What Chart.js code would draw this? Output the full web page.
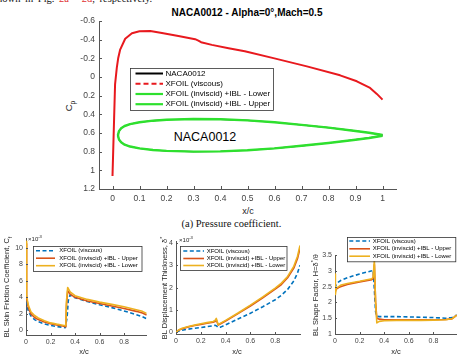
<!DOCTYPE html>
<html><head><meta charset="utf-8">
<script src="https://cdn.jsdelivr.net/npm/chart.js@4.4.0/dist/chart.umd.min.js"></script>
<style>
body{margin:0;background:#fff;width:474px;height:357px;overflow:hidden;position:relative;font-family:'Liberation Sans',Arial,sans-serif;}
canvas{position:absolute;}
.t{position:absolute;white-space:nowrap;transform:translate(-50%,-50%);line-height:1;color:#262626;}
.r{transform:translate(-50%,-50%) rotate(-90deg);}
.serif{font-family:'Liberation Serif','Times New Roman',serif;color:#111;}
sub,sup{font-size:70%;line-height:0;}
</style></head><body>
<div class="t serif" style="left:-7px;top:-6px;transform:none;font-size:10.5px;word-spacing:2px;">shown in Fig. <span style="color:#e03030">2a</span> - <span style="color:#e03030">2d</span>, respectively.</div>
<div class="t" style="left:247px;top:12.5px;font-size:10px;font-weight:bold;color:#000;">NACA0012 - Alpha=0°,Mach=0.5</div>
<div class="t r" style="left:69px;top:106px;font-size:9.5px;">C<sub>p</sub></div>
<div class="t" style="left:248px;top:211px;font-size:9px;">x/c</div>
<div class="t" style="left:205px;top:136.5px;font-size:12.5px;color:#000;">NACA0012</div>
<div class="t serif" style="left:181.5px;top:224px;transform:translate(0,-50%);font-size:10.5px;">(a) Pressure coefficient.</div>

<canvas id="c0" width="474" height="230" style="left:0;top:0"></canvas>
<canvas id="c1" width="155" height="132" style="left:0;top:225px"></canvas>
<canvas id="c2" width="155" height="132" style="left:155px;top:225px"></canvas>
<canvas id="c3" width="164" height="132" style="left:310px;top:225px"></canvas>

<div class="t r" style="left:6.5px;top:287px;font-size:7.5px;">BL Skin Friction Coefficient, C<sub>f</sub></div>
<div class="t" style="left:35px;top:238.5px;font-size:6px;">×10<sup>-3</sup></div>
<div class="t" style="left:84px;top:351.5px;font-size:7.5px;">x/c</div>
<div class="t r" style="left:165px;top:288px;font-size:7.5px;">BL Displacement Thickness, δ<sup>*</sup></div>
<div class="t" style="left:186px;top:239.5px;font-size:6px;">×10<sup>-3</sup></div>
<div class="t" style="left:237px;top:351.5px;font-size:7.5px;">x/c</div>
<div class="t r" style="left:316px;top:295px;font-size:7.5px;">BL Shape Factor, H=δ<sup>*</sup>/θ</div>
<div class="t" style="left:396px;top:351.5px;font-size:7.5px;">x/c</div>

<script>
// ===== Pressure coefficient chart data =====
const cpX = [0, 0.003, 0.006, 0.0095, 0.016, 0.021, 0.028, 0.047, 0.072, 0.1, 0.14, 0.183, 0.244, 0.306, 0.318, 0.328, 0.368, 0.43, 0.49, 0.596, 0.72, 0.843, 0.905, 0.954, 0.979, 1.0];
const cpViscous = [1.06, 0.75, 0.44, 0.08, -0.1, -0.2, -0.29, -0.41, -0.469, -0.49, -0.494, -0.472, -0.44, -0.405, -0.39, -0.373, -0.344, -0.309, -0.275, -0.202, -0.114, -0.018, 0.046, 0.117, 0.181, 0.242];
const foilX = [0.02, 0.024, 0.032, 0.045, 0.065, 0.1, 0.15, 0.2, 0.3, 0.4, 0.5, 0.6, 0.7, 0.8, 0.9, 0.95, 1.0];
const foilUpper = [0.625, 0.58, 0.55, 0.525, 0.505, 0.485, 0.468, 0.458, 0.45, 0.453, 0.465, 0.485, 0.513, 0.543, 0.578, 0.597, 0.621];
const foilLower = [0.625, 0.67, 0.70, 0.725, 0.745, 0.765, 0.782, 0.792, 0.80, 0.797, 0.785, 0.765, 0.737, 0.707, 0.672, 0.653, 0.629];
const mainXTicks = [0, 0.1, 0.2, 0.3, 0.4, 0.5, 0.6, 0.7, 0.8, 0.9, 1];
const mainYTicks = [-0.6, -0.4, -0.2, 0, 0.2, 0.4, 0.6, 0.8, 1, 1.2];
const mainLabels = ['NACA0012', 'XFOIL (viscous)', 'XFOIL (inviscid) +IBL - Lower', 'XFOIL (inviscid) +IBL - Upper'];

// ===== Boundary-layer charts data =====
const blLabels = ['XFOIL (viscous)', 'XFOIL (inviscid) +IBL - Upper', 'XFOIL (inviscid) +IBL - Lower'];
const blXTicks = [0, 0.2, 0.4, 0.6, 0.8];
// skin friction (x1e-3)
const cfXv = [0, 0.005, 0.01, 0.02, 0.04, 0.07, 0.1, 0.15, 0.2, 0.25, 0.3, 0.32, 0.335, 0.345, 0.36, 0.4, 0.5, 0.6, 0.7, 0.8, 0.9, 0.95, 0.985];
const cfViscous = [3.6, 3.2, 2.8, 2.3, 1.75, 1.3, 1.05, 0.78, 0.6, 0.46, 0.36, 0.32, 1.5, 3.6, 4.3, 3.95, 3.5, 3.1, 2.75, 2.35, 1.9, 1.65, 1.4];
const cfXi = [0, 0.003, 0.007, 0.012, 0.02, 0.04, 0.07, 0.1, 0.15, 0.2, 0.25, 0.3, 0.325, 0.33, 0.34, 0.36, 0.4, 0.5, 0.6, 0.7, 0.8, 0.9, 0.95, 0.985];
const cfUpper = [10.5, 6.0, 4.0, 3.3, 2.7, 2.0, 1.55, 1.3, 1.0, 0.8, 0.65, 0.52, 0.42, 3.0, 4.8, 4.4, 4.0, 3.55, 3.25, 2.95, 2.65, 2.3, 2.1, 1.85];
const cfLower = [10.8, 6.5, 4.4, 3.6, 3.0, 2.25, 1.8, 1.5, 1.15, 0.9, 0.75, 0.62, 0.55, 3.5, 5.2, 4.65, 4.2, 3.75, 3.42, 3.15, 2.85, 2.5, 2.3, 2.05];
const cfYTicks = [0, 2, 4, 6, 8, 10];
// displacement thickness (x1e-3)
const dsX = [0, 0.02, 0.05, 0.1, 0.15, 0.2, 0.25, 0.3, 0.315, 0.325, 0.34, 0.36, 0.4, 0.5, 0.6, 0.7, 0.8, 0.85, 0.9, 0.95, 0.98, 1.0];
const dsViscous = [0, 0.06, 0.1, 0.15, 0.19, 0.22, 0.26, 0.3, 0.32, 0.3, 0.22, 0.24, 0.34, 0.6, 0.86, 1.15, 1.46, 1.66, 1.92, 2.3, 2.65, 3.0];
const dsUpper = [0, 0.1, 0.17, 0.25, 0.31, 0.36, 0.41, 0.46, 0.49, 0.57, 0.33, 0.39, 0.51, 0.84, 1.18, 1.55, 1.93, 2.14, 2.44, 2.87, 3.3, 3.75];
const dsLower = [0, 0.11, 0.19, 0.27, 0.33, 0.39, 0.44, 0.49, 0.54, 0.63, 0.35, 0.42, 0.54, 0.87, 1.22, 1.59, 1.98, 2.2, 2.5, 2.95, 3.4, 3.88];
const dsYTicks = [0, 1, 2, 3, 4];
// shape factor
const hX = [0, 0.002, 0.005, 0.01, 0.03, 0.05, 0.1, 0.2, 0.3, 0.31, 0.32, 0.33, 0.34, 0.36, 0.4, 0.5, 0.6, 0.7, 0.8, 0.9, 0.95, 0.99];
const hViscous = [2.45, 2.48, 2.52, 2.56, 2.65, 2.7, 2.78, 2.9, 3.0, 3.02, 2.4, 1.7, 1.56, 1.55, 1.55, 1.55, 1.54, 1.53, 1.52, 1.5, 1.52, 1.6];
const hUpper = [2.45, 2.4, 2.35, 2.42, 2.47, 2.5, 2.57, 2.65, 2.72, 2.75, 3.2, 2.0, 1.5, 1.47, 1.45, 1.45, 1.45, 1.45, 1.45, 1.46, 1.48, 1.6];
const hLower = [2.9, 2.4, 2.25, 2.45, 2.5, 2.55, 2.6, 2.67, 2.75, 2.8, 3.35, 2.0, 1.35, 1.4, 1.42, 1.43, 1.43, 1.43, 1.44, 1.45, 1.48, 1.6];
const hYTicks = [1, 1.5, 2, 2.5, 3, 3.5];

// ===== helpers =====
Chart.defaults.font.family = "'Liberation Sans', Arial, sans-serif";
const pts = (xs, ys) => xs.map((x, i) => ({x: x, y: ys[i]}));
const C_BLUE = '#0072BD', C_RED = '#D95319', C_YEL = '#EDB120';
const C_GREEN = '#2ee02e', C_CPRED = '#e8191e';

function tickMarks(len) {
  return { id: 'tm', afterDatasetsDraw(chart) {
    const {ctx, chartArea: a, scales} = chart;
    ctx.save(); ctx.strokeStyle = '#555'; ctx.lineWidth = 1; ctx.beginPath();
    scales.x.ticks.forEach(t => { const p = Math.round(scales.x.getPixelForValue(t.value)) + 0.5; ctx.moveTo(p, a.bottom); ctx.lineTo(p, a.bottom - len); });
    scales.y.ticks.forEach(t => { const p = Math.round(scales.y.getPixelForValue(t.value)) + 0.5; ctx.moveTo(a.left, p); ctx.lineTo(a.left + len, p); });
    ctx.stroke(); ctx.restore();
  }};
}
function boxLegend(L) {
  return { id: 'bl', afterDraw(chart) {
    const ctx = chart.ctx; const ox = L.ox, oy = L.oy;
    ctx.save();
    ctx.fillStyle = '#fff'; ctx.fillRect(L.x - ox, L.y - oy, L.w, L.h);
    ctx.strokeStyle = '#333'; ctx.lineWidth = 0.8; ctx.strokeRect(Math.round(L.x - ox) + 0.5, Math.round(L.y - oy) + 0.5, L.w, L.h);
    ctx.font = L.font; ctx.textBaseline = 'middle'; ctx.textAlign = 'left';
    L.rows.forEach((r, i) => {
      const y = L.rowY[i] - oy;
      ctx.beginPath(); ctx.setLineDash(r.dash || []); ctx.strokeStyle = r.color; ctx.lineWidth = r.width;
      ctx.moveTo(L.lx1 - ox, y); ctx.lineTo(L.lx2 - ox, y); ctx.stroke(); ctx.setLineDash([]);
      ctx.fillStyle = '#000'; ctx.fillText(r.label, L.tx - ox, y);
    });
    ctx.restore();
  }};
}
function axis(o) {
  return {
    type: 'linear', min: o.min, max: o.max, reverse: !!o.rev,
    afterFit: s => { if (o.h !== undefined) s.height = o.h; if (o.w !== undefined) s.width = o.w; },
    afterBuildTicks: s => { s.ticks = o.ticks.map(v => ({value: v})); },
    grid: {display: false, drawTicks: false},
    border: {display: true, color: '#555', width: 1},
    ticks: {font: {size: o.fs}, color: '#444', padding: o.pad, maxRotation: 0, autoSkip: false, callback: v => String(v)}
  };
}
function makeChart(id, o) {
  return new Chart(document.getElementById(id), {
    type: 'line',
    data: {datasets: o.datasets},
    options: {
      responsive: false, animation: false, devicePixelRatio: 1, events: [],
      layout: {padding: o.pad},
      plugins: {legend: {display: false}, tooltip: {enabled: false}, title: {display: false}},
      elements: {point: {radius: 0}, line: {tension: 0, borderJoinStyle: 'round', borderCapStyle: 'butt'}},
      scales: {x: axis(o.x), y: axis(o.y)}
    },
    plugins: [tickMarks(o.tl), boxLegend(o.legend)]
  });
}

// ===== main Cp chart =====
const foilLoop = pts(foilX.slice().reverse(), foilUpper.slice().reverse()).concat(pts(foilX, foilLower));
makeChart('c0', {
  pad: {left: 0, top: 21, right: 78, bottom: 0}, tl: 3,
  x: {min: -0.05, max: 1.05, ticks: mainXTicks, h: 41, fs: 8.5, pad: 5},
  y: {min: -0.6, max: 1.2, rev: true, ticks: mainYTicks, w: 99, fs: 8.5, pad: 4},
  datasets: [
    {data: pts(foilX, foilLower), borderColor: C_GREEN, borderWidth: 2.4, order: 0},
    {data: pts(foilX, foilUpper), borderColor: C_GREEN, borderWidth: 2.4, order: 0},
    {data: foilLoop, borderColor: '#000', borderWidth: 1.2, order: 1},
    {data: pts(cpX, cpViscous), borderColor: C_CPRED, borderWidth: 2, order: 2}
  ],
  legend: {ox: 0, oy: 0, x: 130, y: 67.5, w: 143, h: 42, font: "8px 'Liberation Sans', Arial, sans-serif",
    lx1: 135.5, lx2: 163, tx: 165.5, rowY: [73.5, 83.8, 94, 104.2],
    rows: [
      {label: mainLabels[0], color: '#000', width: 2},
      {label: mainLabels[1], color: C_CPRED, width: 2, dash: [5, 3]},
      {label: mainLabels[2], color: C_GREEN, width: 2.2},
      {label: mainLabels[3], color: C_GREEN, width: 2.2}
    ]}
});

const blRows = [
  {label: blLabels[0], color: C_BLUE, width: 1.6, dash: [4, 2.5]},
  {label: blLabels[1], color: C_RED, width: 1.6},
  {label: blLabels[2], color: C_YEL, width: 1.6}
];
const blFont = "6px 'Liberation Sans', Arial, sans-serif";
function blSets(xv, v, xi, up, lo) {
  return [
    {data: pts(xi, lo), borderColor: C_YEL, borderWidth: 1.6, order: 0},
    {data: pts(xi, up), borderColor: C_RED, borderWidth: 1.6, order: 1},
    {data: pts(xv, v), borderColor: C_BLUE, borderWidth: 1.6, borderDash: [4, 2.5], order: 2}
  ];
}

// ===== skin friction =====
makeChart('c1', {
  pad: {left: 0, top: 13, right: 8.3, bottom: 0}, tl: 2,
  x: {min: 0, max: 0.985, ticks: blXTicks, h: 22, fs: 7, pad: 3},
  y: {min: -0.57, max: 11.2, ticks: cfYTicks, w: 26, fs: 7, pad: 3},
  datasets: blSets(cfXv, cfViscous, cfXi, cfUpper, cfLower),
  legend: {ox: 0, oy: 225, x: 33, y: 245.5, w: 108.5, h: 25, font: blFont,
    lx1: 36, lx2: 55, tx: 59.3, rowY: [250.7, 258.2, 265.7], rows: blRows}
});

// ===== displacement thickness =====
makeChart('c2', {
  pad: {left: 0, top: 16, right: 10, bottom: 0}, tl: 2,
  x: {min: 0, max: 1, ticks: blXTicks, h: 23, fs: 7, pad: 3},
  y: {min: -0.067, max: 4.08, ticks: dsYTicks, w: 21, fs: 7, pad: 3},
  datasets: blSets(dsX, dsViscous, dsX, dsUpper, dsLower),
  legend: {ox: 155, oy: 225, x: 180, y: 246, w: 106.5, h: 24, font: blFont,
    lx1: 183.3, lx2: 204, tx: 206.7, rowY: [251, 258.5, 265.5], rows: blRows}
});

// ===== shape factor =====
makeChart('c3', {
  pad: {left: 0, top: 30, right: 17.2, bottom: 0}, tl: 2,
  x: {min: 0, max: 0.99, ticks: blXTicks, h: 23, fs: 7, pad: 3},
  y: {min: 1, max: 3.5, ticks: hYTicks, w: 25, fs: 7, pad: 3},
  datasets: blSets(hX, hViscous, hX, hUpper, hLower),
  legend: {ox: 310, oy: 225, x: 346.7, y: 236.7, w: 108.3, h: 24.3, font: blFont,
    lx1: 349.3, lx2: 370, tx: 372.7, rowY: [241, 248.8, 256.2], rows: blRows}
});
</script>
</body></html>
